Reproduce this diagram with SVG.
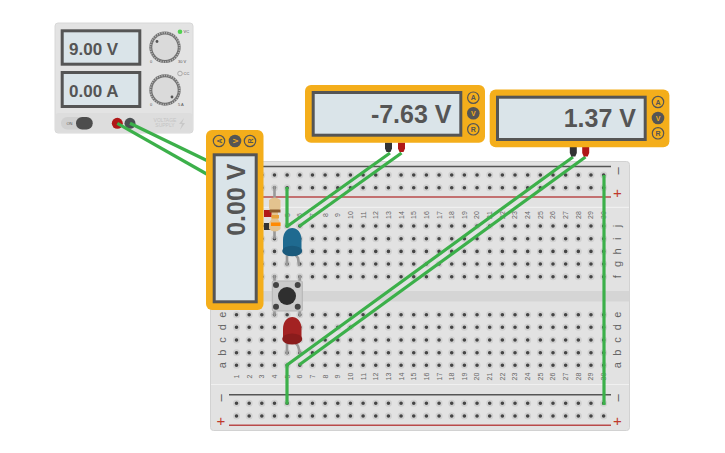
<svg xmlns="http://www.w3.org/2000/svg" width="725" height="453" viewBox="0 0 725 453">
<style>
text{font-family:"Liberation Sans",Arial,sans-serif;fill:#555}
.halo{stroke:#d0d0d0;stroke-width:7;stroke-linecap:round;stroke-dasharray:0 12.66;fill:none}
.hole{stroke:#454545;stroke-width:3.6;stroke-linecap:round;stroke-dasharray:0 12.66;fill:none}
.wire{stroke:#3cb04a;stroke-width:3.2;fill:none;stroke-linejoin:round}
.meter{fill:#f4ae1b}
.lcd{fill:#dae4e9;stroke:#555;stroke-width:3}
.val{font-size:25px;font-weight:700;text-anchor:end}
.lbl{font-size:7px;fill:#666;text-anchor:middle}
.rl{font-size:11px;fill:#666;text-anchor:middle}
.minus{font-size:13px;text-anchor:middle;fill:#555}
.plus{font-size:15px;text-anchor:middle;fill:#c0392b}
.btn{fill:none;stroke:#555;stroke-width:1.200}
.bon{fill:#555}
.bt{font-size:7px;font-weight:700;text-anchor:middle;fill:#555}
.bv{font-size:7px;font-weight:700;text-anchor:middle;fill:#f4ae1b}
.leg{stroke:#999;stroke-width:2.600;fill:none;stroke-linecap:round}
.tip{stroke:#999;stroke-width:2.500}
</style>
<defs>
<g id="row"><line class="halo" x1="236.500" x2="604" y1="0" y2="0"/><line class="hole" x1="236.500" x2="604" y1="0" y2="0"/></g>
<g id="knob"><circle r="15.700" fill="#707070"/><circle r="14.600" fill="none" stroke="#bbb" stroke-width="1.800" stroke-dasharray="1 1.400"/><circle r="12.700" fill="#dadada"/></g>
<path id="pin" d="M-3.500 0h7v6l-1.500 3.500h-4l-1.500-3.500z"/>
</defs>

<g id="breadboard">
<rect x="210.500" y="161.500" width="419" height="269" rx="3" fill="#e2e2e2" stroke="#d2d2d2"/>
<rect x="211" y="291" width="418" height="10.500" fill="#d5d5d5"/>
<line x1="211" x2="629" y1="207.300" y2="207.300" stroke="#f0f0f0" stroke-width="1.200"/>
<line x1="211" x2="629" y1="384.500" y2="384.500" stroke="#f0f0f0" stroke-width="1.200"/>
<line x1="229" x2="611" y1="166.500" y2="166.500" stroke="#555" stroke-width="1.500"/>
<line x1="229" x2="611" y1="197" y2="197" stroke="#b94a4a" stroke-width="1.500"/>
<line x1="229" x2="611" y1="394.700" y2="394.700" stroke="#555" stroke-width="1.500"/>
<line x1="229" x2="611" y1="425.300" y2="425.300" stroke="#b94a4a" stroke-width="1.500"/>
<use href="#row" y="175"/><use href="#row" y="187.700"/>
<use href="#row" y="226"/><use href="#row" y="238.700"/><use href="#row" y="251.400"/><use href="#row" y="264"/><use href="#row" y="276.700"/>
<use href="#row" y="314.700"/><use href="#row" y="327.300"/><use href="#row" y="340"/><use href="#row" y="352.700"/><use href="#row" y="365.300"/>
<use href="#row" y="403.300"/><use href="#row" y="416"/>
<g class="rails">
<text class="minus" transform="translate(621.500,171) rotate(-90)">–</text>
<text class="plus" x="617.500" y="198">+</text>
<text class="minus" transform="translate(621.500,398) rotate(-90)">–</text>
<text class="plus" x="617.500" y="425.500">+</text>
<text class="minus" transform="translate(225,398) rotate(-90)">–</text>
<text class="plus" x="221" y="425.500">+</text>
</g>
<g class="rows">
<text class="rl" transform="translate(620.500,226) rotate(-90)">j</text>
<text class="rl" transform="translate(620.500,238.700) rotate(-90)">i</text>
<text class="rl" transform="translate(620.500,251.400) rotate(-90)">h</text>
<text class="rl" transform="translate(620.500,264) rotate(-90)">g</text>
<text class="rl" transform="translate(620.500,276.700) rotate(-90)">f</text>
<text class="rl" transform="translate(620.500,314.700) rotate(-90)">e</text>
<text class="rl" transform="translate(620.500,327.300) rotate(-90)">d</text>
<text class="rl" transform="translate(620.500,340) rotate(-90)">c</text>
<text class="rl" transform="translate(620.500,352.700) rotate(-90)">b</text>
<text class="rl" transform="translate(620.500,365.300) rotate(-90)">a</text>
<text class="rl" transform="translate(226,314.700) rotate(-90)">e</text>
<text class="rl" transform="translate(226,327.300) rotate(-90)">d</text>
<text class="rl" transform="translate(226,340) rotate(-90)">c</text>
<text class="rl" transform="translate(226,352.700) rotate(-90)">b</text>
<text class="rl" transform="translate(226,365.300) rotate(-90)">a</text>
</g>
<g class="cols">
<text class="lbl" transform="translate(289.700,215) rotate(-90)">5</text><text class="lbl" transform="translate(302.300,215) rotate(-90)">6</text><text class="lbl" transform="translate(315,215) rotate(-90)">7</text><text class="lbl" transform="translate(327.600,215) rotate(-90)">8</text><text class="lbl" transform="translate(340.300,215) rotate(-90)">9</text><text class="lbl" transform="translate(352.900,215) rotate(-90)">10</text><text class="lbl" transform="translate(365.600,215) rotate(-90)">11</text><text class="lbl" transform="translate(378.200,215) rotate(-90)">12</text><text class="lbl" transform="translate(390.900,215) rotate(-90)">13</text><text class="lbl" transform="translate(403.500,215) rotate(-90)">14</text><text class="lbl" transform="translate(416.200,215) rotate(-90)">15</text><text class="lbl" transform="translate(428.800,215) rotate(-90)">16</text><text class="lbl" transform="translate(441.500,215) rotate(-90)">17</text><text class="lbl" transform="translate(454.100,215) rotate(-90)">18</text><text class="lbl" transform="translate(466.800,215) rotate(-90)">19</text><text class="lbl" transform="translate(479.400,215) rotate(-90)">20</text><text class="lbl" transform="translate(492.100,215) rotate(-90)">21</text><text class="lbl" transform="translate(504.700,215) rotate(-90)">22</text><text class="lbl" transform="translate(517.400,215) rotate(-90)">23</text><text class="lbl" transform="translate(530,215) rotate(-90)">24</text><text class="lbl" transform="translate(542.700,215) rotate(-90)">25</text><text class="lbl" transform="translate(555.300,215) rotate(-90)">26</text><text class="lbl" transform="translate(568,215) rotate(-90)">27</text><text class="lbl" transform="translate(580.600,215) rotate(-90)">28</text><text class="lbl" transform="translate(593.300,215) rotate(-90)">29</text><text class="lbl" transform="translate(606,215) rotate(-90)">30</text>
<text class="lbl" transform="translate(239,376.500) rotate(-90)">1</text><text class="lbl" transform="translate(251.700,376.500) rotate(-90)">2</text><text class="lbl" transform="translate(264.300,376.500) rotate(-90)">3</text><text class="lbl" transform="translate(277,376.500) rotate(-90)">4</text><text class="lbl" transform="translate(289.700,376.500) rotate(-90)">5</text><text class="lbl" transform="translate(302.300,376.500) rotate(-90)">6</text><text class="lbl" transform="translate(315,376.500) rotate(-90)">7</text><text class="lbl" transform="translate(327.600,376.500) rotate(-90)">8</text><text class="lbl" transform="translate(340.300,376.500) rotate(-90)">9</text><text class="lbl" transform="translate(352.900,376.500) rotate(-90)">10</text><text class="lbl" transform="translate(365.600,376.500) rotate(-90)">11</text><text class="lbl" transform="translate(378.200,376.500) rotate(-90)">12</text><text class="lbl" transform="translate(390.900,376.500) rotate(-90)">13</text><text class="lbl" transform="translate(403.500,376.500) rotate(-90)">14</text><text class="lbl" transform="translate(416.200,376.500) rotate(-90)">15</text><text class="lbl" transform="translate(428.800,376.500) rotate(-90)">16</text><text class="lbl" transform="translate(441.500,376.500) rotate(-90)">17</text><text class="lbl" transform="translate(454.100,376.500) rotate(-90)">18</text><text class="lbl" transform="translate(466.800,376.500) rotate(-90)">19</text><text class="lbl" transform="translate(479.400,376.500) rotate(-90)">20</text><text class="lbl" transform="translate(492.100,376.500) rotate(-90)">21</text><text class="lbl" transform="translate(504.700,376.500) rotate(-90)">22</text><text class="lbl" transform="translate(517.400,376.500) rotate(-90)">23</text><text class="lbl" transform="translate(530,376.500) rotate(-90)">24</text><text class="lbl" transform="translate(542.700,376.500) rotate(-90)">25</text><text class="lbl" transform="translate(555.300,376.500) rotate(-90)">26</text><text class="lbl" transform="translate(568,376.500) rotate(-90)">27</text><text class="lbl" transform="translate(580.600,376.500) rotate(-90)">28</text><text class="lbl" transform="translate(593.300,376.500) rotate(-90)">29</text><text class="lbl" transform="translate(606,376.500) rotate(-90)">30</text>
</g>
</g>

<g id="supply">
<rect x="55" y="23" width="138" height="110" rx="3" fill="#e3e3e3" stroke="#d8d8d8"/>
<rect x="55.500" y="113" width="137" height="19.500" rx="3" fill="#dddddd"/>
<rect x="62.200" y="30.800" width="77.600" height="33.400" class="lcd"/>
<rect x="62.200" y="72.500" width="77.600" height="34" class="lcd"/>
<text x="69" y="54.500" font-size="17" font-weight="700">9.00 V</text>
<text x="69" y="96.700" font-size="17" font-weight="700">0.00 A</text>
<use href="#knob" x="165" y="47.300"/><circle cx="157" cy="41.500" r="1.400" fill="#555"/>
<use href="#knob" x="165" y="90"/><circle cx="172" cy="97" r="1.400" fill="#555"/>
<circle cx="180" cy="31.700" r="2.300" fill="#4fd14f"/><circle cx="180" cy="73.500" r="2.300" fill="none" stroke="#aaa"/>
<text x="183.500" y="33" font-size="4">VC</text><text x="183.500" y="75" font-size="4">CC</text>
<text x="150" y="63" font-size="4">0</text><text x="178" y="63" font-size="4">30 V</text>
<text x="150" y="106" font-size="4">0</text><text x="178" y="106" font-size="4">5 A</text>
<rect x="61" y="117" width="31.500" height="12.500" rx="6.200" fill="#d0d0d0"/><rect x="76" y="117" width="16.700" height="12.500" rx="6.200" fill="#4d4d4d"/>
<text x="69.500" y="125" font-size="4" text-anchor="middle">ON</text>
<circle cx="117.300" cy="123.300" r="5.500" fill="#b01818"/><circle cx="130" cy="123.300" r="5.500" fill="#4a4f52"/>
<text x="165" y="122" font-size="5" text-anchor="middle" style="fill:#c4c4c4">VOLTAGE</text><text x="165" y="127" font-size="5" text-anchor="middle" style="fill:#c4c4c4">SUPPLY</text>
<path d="M184 118l-5 6h3l-2 6 5-7h-3l2-5z" fill="#c8c8c8"/>
</g>

<g id="resistor">
<line class="leg" x1="274.500" y1="187" x2="274.500" y2="238"/>
<rect x="264" y="210" width="8" height="7" fill="#b01818"/><rect x="264" y="223" width="8" height="7" fill="#333"/>
<path d="M269 200q5.500-5 11.500 0v8l-2.500 4v7l2.500 4v6q-5.500 5-11.500 0v-6l2.500-4v-7l-2.500-4z" fill="#e3c38f"/>
<rect x="269.500" y="209.500" width="11" height="3" fill="#8a5a2b"/><rect x="271.500" y="215" width="7.500" height="3.500" fill="#e8a33a"/><rect x="271" y="222.500" width="9.500" height="3.500" fill="#ff8a00"/>
</g>

<g id="led-blue">
<line class="leg" x1="287" y1="252" x2="287" y2="265"/><path class="leg" d="M295 254l3 4 1 7"/>
<path d="M283 240c0-16 18.500-16 18.500 0v11h-18.500z" fill="#1f6a90"/>
<ellipse cx="292.200" cy="251" rx="10" ry="5.300" fill="#1a5a7c"/>
</g>
<g id="pushbutton">
<line class="leg" x1="274.500" y1="276" x2="274.500" y2="281"/><line class="leg" x1="299.700" y1="276" x2="299.700" y2="281"/><line class="leg" x1="274.500" y1="311" x2="274.500" y2="315"/><line class="leg" x1="299.700" y1="311" x2="299.700" y2="315"/>
<rect x="272.300" y="281" width="30" height="30" rx="1" fill="#cbcbcb" stroke="#b5b5b5"/>
<circle cx="276" cy="285" r="3" fill="#444"/><circle cx="297.700" cy="285" r="3" fill="#444"/><circle cx="276" cy="306.700" r="3" fill="#444"/><circle cx="297.700" cy="306.700" r="3" fill="#444"/>
<circle cx="287" cy="296" r="9" fill="#2f2f2f"/>
</g>
<g id="led-red">
<line class="leg" x1="287" y1="340" x2="287" y2="353"/><path class="leg" d="M295 342l3 4 2 7"/>
<path d="M283 329c0-16 18.500-16 18.500 0v10h-18.500z" fill="#a32222"/>
<ellipse cx="292.200" cy="339" rx="10" ry="5.500" fill="#8a1c1c"/>
</g>

<g id="connectors">
<line class="wire" x1="117.300" y1="123.300" x2="212" y2="177"/>
<line class="wire" x1="130" y1="123.300" x2="212" y2="163"/>
<path class="wire" d="M287 187V226.500L390 153"/>
<path class="wire" d="M299 226.500L401.500 153"/>
<path class="wire" d="M287 404.500V365L573 157"/>
<path class="wire" d="M299 365L585.500 157"/>
<line class="wire" x1="604" y1="175" x2="604" y2="405"/>
</g>

<g id="meter-left">
<rect x="206" y="130" width="57.500" height="180" rx="6" class="meter"/>
<rect x="214.200" y="154.800" width="42" height="147" class="lcd"/>
<circle cx="219" cy="141" r="5.700" class="btn"/><circle cx="235" cy="141" r="6.300" class="bon"/><circle cx="250" cy="141" r="5.700" class="btn"/>
<text class="bt" transform="translate(221.500,141) rotate(-90)">A</text><text class="bv" transform="translate(237.500,141) rotate(-90)">V</text><text class="bt" transform="translate(252.500,141) rotate(-90)">R</text>
<text class="val" transform="translate(244.500,163.500) rotate(-90)">0.00 V</text>
</g>

<g id="meter-1">
<use href="#pin" x="388.500" y="142.500" fill="#333"/><use href="#pin" x="401.500" y="142.500" fill="#b01818"/>
<rect x="305" y="85" width="180" height="57.700" rx="6" class="meter"/>
<rect x="313.200" y="92.500" width="147.600" height="42.700" class="lcd"/>
<circle cx="473.300" cy="97.700" r="5.700" class="btn"/><circle cx="473.300" cy="113.300" r="6.300" class="bon"/><circle cx="473.300" cy="129.300" r="5.700" class="btn"/>
<text class="bt" x="473.300" y="100.200">A</text><text class="bv" x="473.300" y="115.800">V</text><text class="bt" x="473.300" y="131.800">R</text>
<text class="val" x="451.500" y="122.500">-7.63 V</text>
</g>

<g id="meter-2">
<use href="#pin" x="573.300" y="147" fill="#333"/><use href="#pin" x="585.700" y="147" fill="#b01818"/>
<rect x="489.700" y="89.500" width="179.700" height="57.800" rx="6" class="meter"/>
<rect x="497.500" y="97.200" width="147.700" height="42.300" class="lcd"/>
<circle cx="658" cy="102" r="5.700" class="btn"/><circle cx="658" cy="118" r="6.300" class="bon"/><circle cx="658" cy="133.300" r="5.700" class="btn"/>
<text class="bt" x="658" y="104.500">A</text><text class="bv" x="658" y="120.500">V</text><text class="bt" x="658" y="135.800">R</text>
<text class="val" x="636" y="126.700">1.37 V</text>
</g>
</svg>
